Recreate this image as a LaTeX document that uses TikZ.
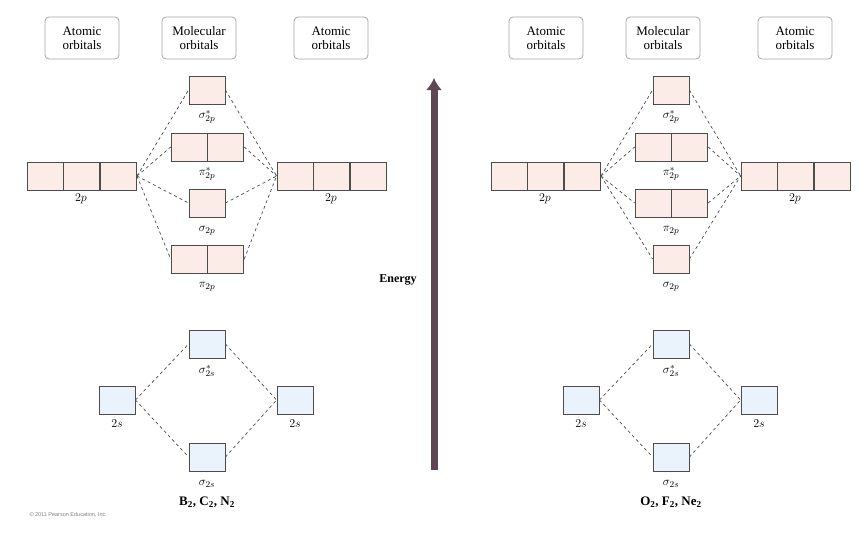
\documentclass[tikz,border=0pt]{standalone}
\usepackage{fontspec}
\setmainfont{Liberation Serif}
\setsansfont{Liberation Sans}
\usetikzlibrary{arrows.meta,positioning}
\definecolor{arrowc}{RGB}{95,70,85}
\definecolor{pinkf}{RGB}{252,236,232}
\definecolor{bluef}{RGB}{234,243,251}
\begin{document}
\begin{tikzpicture}[x=1pt,y=-1pt,
  hdr/.style={draw=gray!70,rounded corners=4pt,minimum width=74pt,minimum height=42pt,align=center,font=\fontsize{13}{14}\selectfont,line width=0.8pt},
  pbox/.style={draw=black!70,fill=pinkf,minimum width=36pt,minimum height=28pt,inner sep=0pt,line width=0.8pt},
  sbox/.style={draw=black!70,fill=bluef,minimum width=36pt,minimum height=28pt,inner sep=0pt,line width=0.8pt},
  lbl/.style={font=\fontsize{12.5}{12.5}\selectfont},
  dl/.style={dashed,black!70,line width=0.7pt}]
\useasboundingbox (0,0) rectangle (867,551);
\fill[white] (0,0) rectangle (867,551);
% energy arrow
\node[font=\bfseries\fontsize{12}{12}\selectfont] (en) at (398,280) {Energy};
\coordinate (ab) at (434,470);
\coordinate (at) at (434,78);
\draw[line width=7pt,draw=arrowc,-{Latex[length=12pt,width=16pt]}] (ab) -- (at);
\node[font=\sffamily\fontsize{5.5}{5.5}\selectfont,gray,anchor=west] (cp) at (26,515) {\copyright\ 2011 Pearson Education, Inc.};
\foreach \o/\tag/\name in {0/L/{B\textsubscript{2}, C\textsubscript{2}, N\textsubscript{2}},464/R/{O\textsubscript{2}, F\textsubscript{2}, Ne\textsubscript{2}}}{
\begin{scope}[xshift=\o]
 \node[hdr] (h1\tag) at (82,38) {Atomic\\orbitals};
 \node[hdr] (h2\tag) at (199,38) {Molecular\\orbitals};
 \node[hdr] (h3\tag) at (331,38) {Atomic\\orbitals};
 \node[pbox] (a1\tag) at (45,176) {};
 \node[pbox,right=0pt of a1\tag] (a2\tag) {};
 \node[pbox,right=0pt of a2\tag] (a3\tag) {};
 \node[lbl] at (81,199) {$2p$};
 \node[pbox] (b1\tag) at (295,176) {};
 \node[pbox,right=0pt of b1\tag] (b2\tag) {};
 \node[pbox,right=0pt of b2\tag] (b3\tag) {};
 \node[lbl] at (331,199) {$2p$};
 \node[pbox] (ss\tag) at (207,90) {};
 \node[lbl] at (207,117) {$\sigma^*_{2p}$};
 \node[pbox] (ps1\tag) at (189,147) {};
 \node[pbox,right=0pt of ps1\tag] (ps2\tag) {};
 \node[lbl] at (207,174) {$\pi^*_{2p}$};
 \node[sbox] (c\tag) at (117,400) {};
 \node[lbl] at (117,424) {$2s$};
 \node[sbox] (d\tag) at (295,400) {};
 \node[lbl] at (295,424) {$2s$};
 \node[sbox] (sss\tag) at (207,344) {};
 \node[lbl] at (207,371) {$\sigma^*_{2s}$};
 \node[sbox] (s2s\tag) at (207,457) {};
 \node[lbl] at (207,484) {$\sigma_{2s}$};
 \node[font=\bfseries\fontsize{13}{13}\selectfont] at (207,502) {\name};
 \draw[dl] (a3\tag.east) -- (ss\tag.west) (ss\tag.east) -- (b1\tag.west);
 \draw[dl] (a3\tag.east) -- (ps1\tag.west) (ps2\tag.east) -- (b1\tag.west);
 \draw[dl] (c\tag.east) -- (sss\tag.west) (sss\tag.east) -- (d\tag.west);
 \draw[dl] (c\tag.east) -- (s2s\tag.west) (s2s\tag.east) -- (d\tag.west);
\end{scope}}
\begin{scope}
 \node[pbox] (sgL) at (207,203) {};
 \node[lbl] at (207,231) {$\sigma_{2p}$};
 \node[pbox] (p1L) at (189,259) {};
 \node[pbox,right=0pt of p1L] (p2L) {};
 \node[lbl] at (207,287) {$\pi_{2p}$};
 \draw[dl] (a3L.east) -- (sgL.west) (sgL.east) -- (b1L.west);
 \draw[dl] (a3L.east) -- (p1L.west) (p2L.east) -- (b1L.west);
\end{scope}
\begin{scope}[xshift=464]
 \node[pbox] (p1R) at (189,203) {};
 \node[pbox,right=0pt of p1R] (p2R) {};
 \node[lbl] at (207,231) {$\pi_{2p}$};
 \node[pbox] (sgR) at (207,259) {};
 \node[lbl] at (207,287) {$\sigma_{2p}$};
 \draw[dl] (a3R.east) -- (p1R.west) (p2R.east) -- (b1R.west);
 \draw[dl] (a3R.east) -- (sgR.west) (sgR.east) -- (b1R.west);
\end{scope}
\end{tikzpicture}
\end{document}
